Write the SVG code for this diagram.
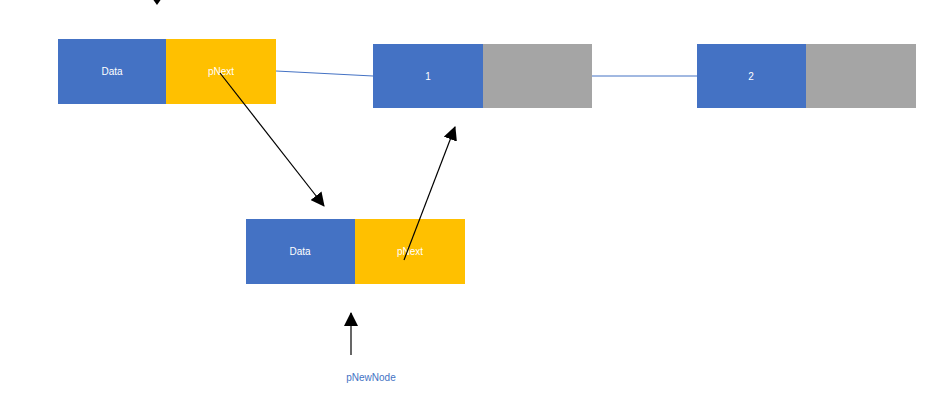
<svg xmlns="http://www.w3.org/2000/svg" width="951" height="406" viewBox="0 0 951 406">
<style>
.b{fill:#4472c4}.y{fill:#ffc000}.g{fill:#a5a5a5}
.t{font-family:"Liberation Sans",Arial,sans-serif;font-size:10px;fill:#fff;text-anchor:middle}
.c{stroke:#000;stroke-width:1.2;fill:none}
.l{stroke:#4472c4;stroke-width:1;fill:none}
</style>
<defs><marker id="a" markerWidth="10" markerHeight="10" refX="9" refY="5" orient="auto" markerUnits="userSpaceOnUse" viewBox="0 0 10 10"><path d="M0,0L10,5L0,10z" fill="#000"/></marker>
<marker id="a2" markerWidth="14" markerHeight="14" refX="13" refY="7" orient="auto" markerUnits="userSpaceOnUse" viewBox="0 0 14 14"><path d="M0,0L14,7L0,14z" fill="#000"/></marker></defs>
<g id="head"><rect class="b" x="58" y="39" width="108" height="65"/><rect class="y" x="166" y="39" width="110" height="65"/><text class="t" x="112" y="75">Data</text><text class="t" x="221" y="75">pNext</text></g>
<g id="n1"><rect class="b" x="373" y="44" width="110" height="64"/><rect class="g" x="483" y="44" width="109" height="64"/><text class="t" x="428" y="80">1</text></g>
<g id="n2"><rect class="b" x="697" y="44" width="109" height="64"/><rect class="g" x="806" y="44" width="110" height="64"/><text class="t" x="751" y="80">2</text></g>
<g id="newnode"><rect class="b" x="246" y="219" width="109" height="65"/><rect class="y" x="355" y="219" width="110" height="65"/><text class="t" x="300" y="255">Data</text><text class="t" x="410" y="255">pNext</text></g>
<g id="connectors">
<path class="l" d="M276,71L373,76"/><path class="l" d="M592,76L697,76"/>
<path class="c" d="M220,73L324,206" marker-end="url(#a2)"/>
<path class="c" d="M404,260L455,127" marker-end="url(#a2)"/>
<path class="c" d="M351,355L351,313" stroke-width="1.5" marker-end="url(#a2)"/>
<path d="M152,-2L162,-2L157,5z" fill="#000"/>
</g>
<text x="371" y="381" style="font-family:'Liberation Sans',Arial,sans-serif;font-size:10px;fill:#4472c4;text-anchor:middle">pNewNode</text>
</svg>
